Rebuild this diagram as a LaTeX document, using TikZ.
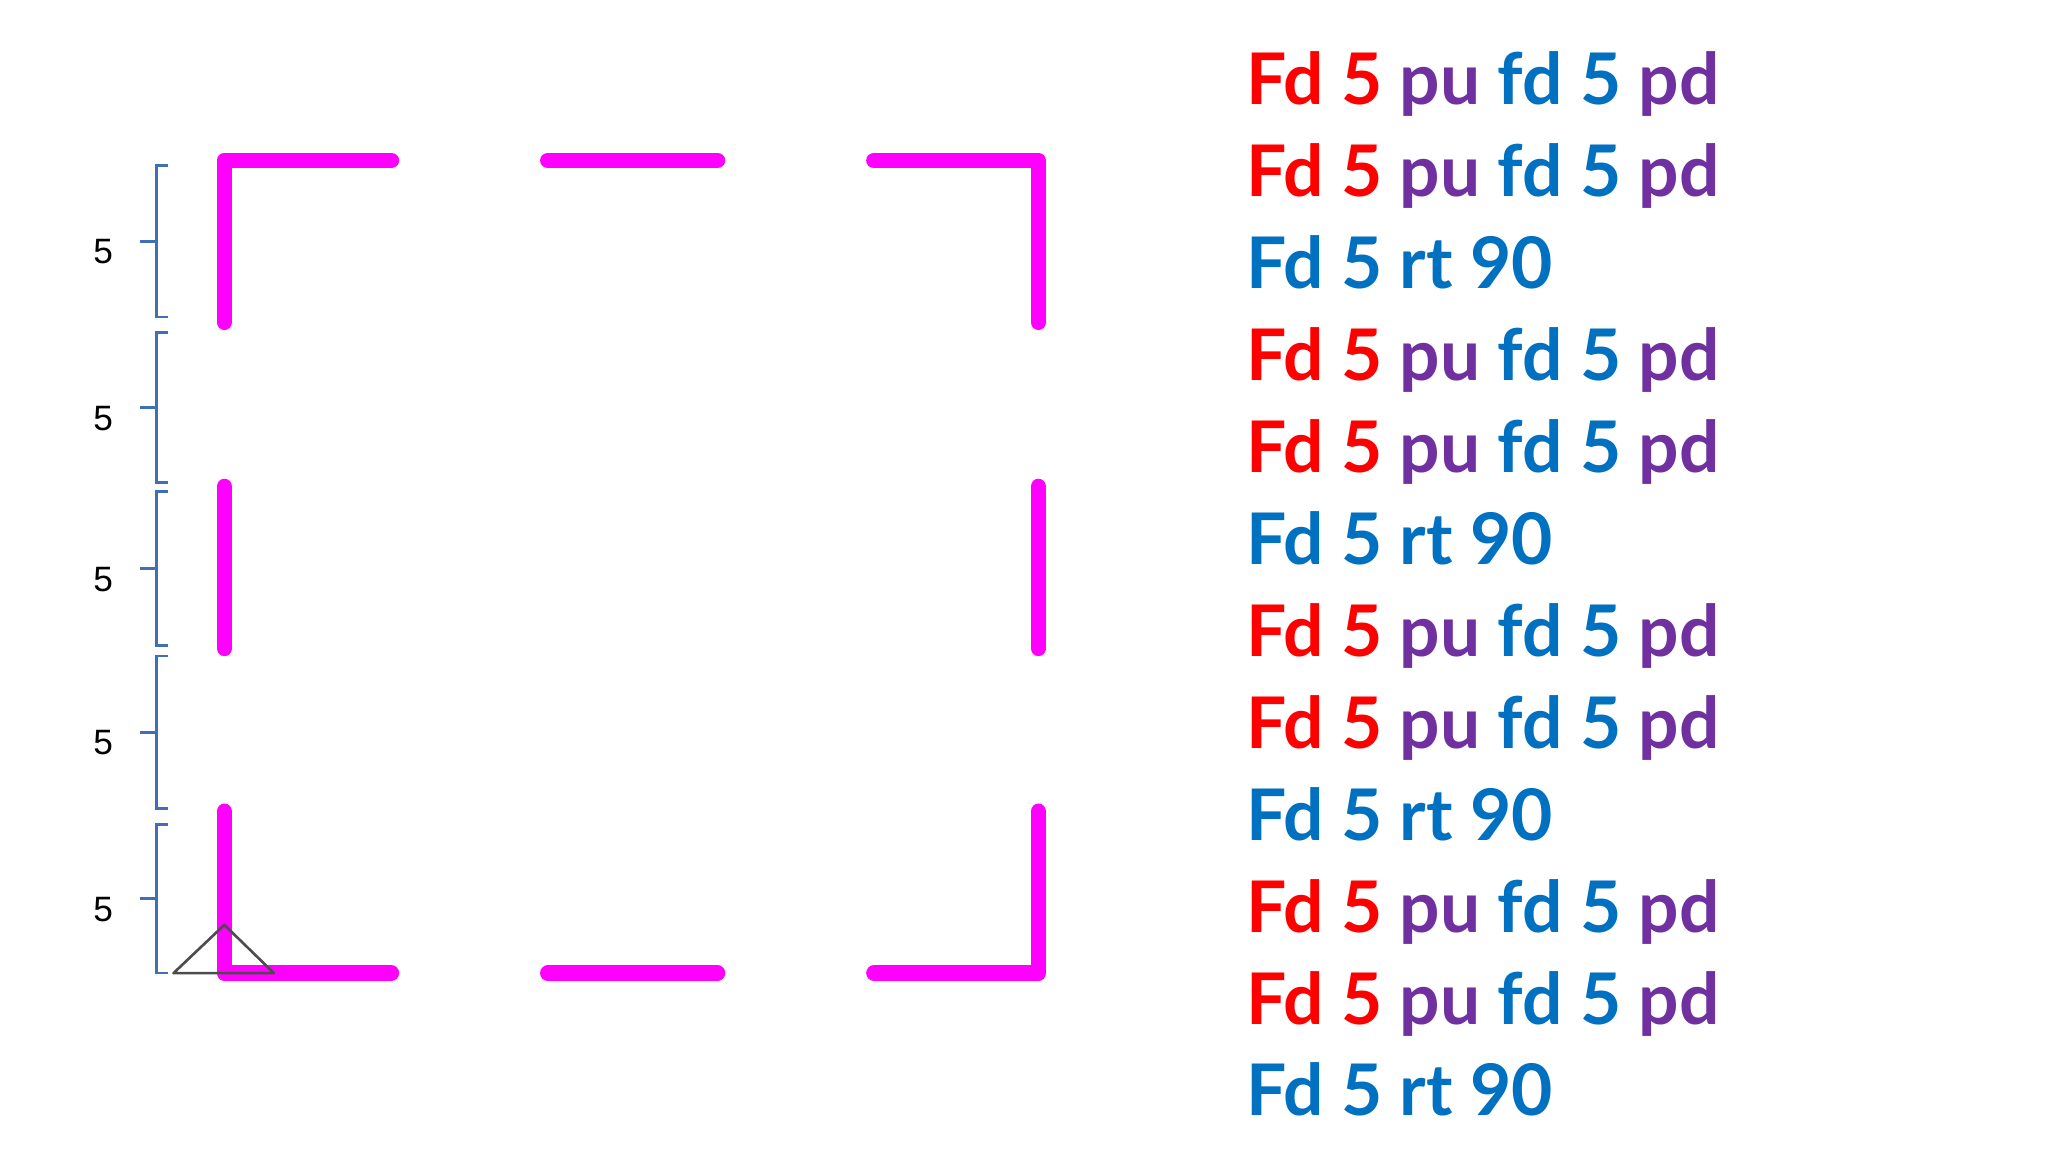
\documentclass[tikz,border=0pt]{standalone}
\usepackage{fontspec}
\setmainfont{Lato}[UprightFont=* Bold]
\newfontfamily\lbl{Liberation Sans}
\definecolor{cred}{HTML}{FF0000}
\definecolor{cpur}{HTML}{7030A0}
\definecolor{cblu}{HTML}{0070C0}
\definecolor{cmag}{HTML}{FF00FF}
\definecolor{cbr}{HTML}{3F6FB5}
\begin{document}
\begin{tikzpicture}[x=0.5pt,y=-0.5pt,
  seg/.style={draw=cmag,line width=6pt,line cap=round,line join=round},
  brc/.style={draw=cbr,line width=1pt},
  cmd/.style={anchor=base west,inner sep=0pt,font=\fontsize{27.3}{30}\selectfont},
  num/.style={inner sep=0pt,font=\lbl\fontsize{13.5}{14}\selectfont}]
\useasboundingbox (0,0) rectangle (1570,883);
% square segments
\draw[seg] (172,247) -- (172,123) -- (300,123);
\draw[seg] (420,123) -- (550,123);
\draw[seg] (670,123) -- (796,123) -- (796,247);
\draw[seg] (172,373) -- (172,497);
\draw[seg] (796,373) -- (796,497);
\draw[seg] (172,622) -- (172,746) -- (300,746);
\draw[seg] (420,746) -- (550,746);
\draw[seg] (670,746) -- (796,746) -- (796,622);
% braces
\foreach \t/\b [count=\i] in {127/243,255/370,377/495,503/620,632/746}{
  \draw[brc] (129,\t) -- (120,\t) -- (120,\b) -- (129,\b);
  \draw[brc] (120,{(\t+\b)/2}) -- (107,{(\t+\b)/2});
  \node[num] (n\i) at (79,{(\t+\b)/2+8}) {5};
}
% turtle
\draw[draw=black!70,line width=1pt,line join=round] (133,746) -- (172,709) -- (210,746) -- cycle;
% commands
\newcommand\lineA{{\color{cred}Fd 5} {\color{cpur}pu} {\color{cblu}fd 5} {\color{cpur}pd}}
\newcommand\lineB{{\color{cblu}Fd 5 rt 90}}
\foreach \k in {0,...,3}{
  \node[cmd] (a\k) at (955,{80+211.5*\k}) {\lineA};
  \node[cmd] (b\k) at (955,{150.5+211.5*\k}) {\lineA};
  \node[cmd] (c\k) at (955,{221+211.5*\k}) {\lineB};
}
\end{tikzpicture}
\end{document}
